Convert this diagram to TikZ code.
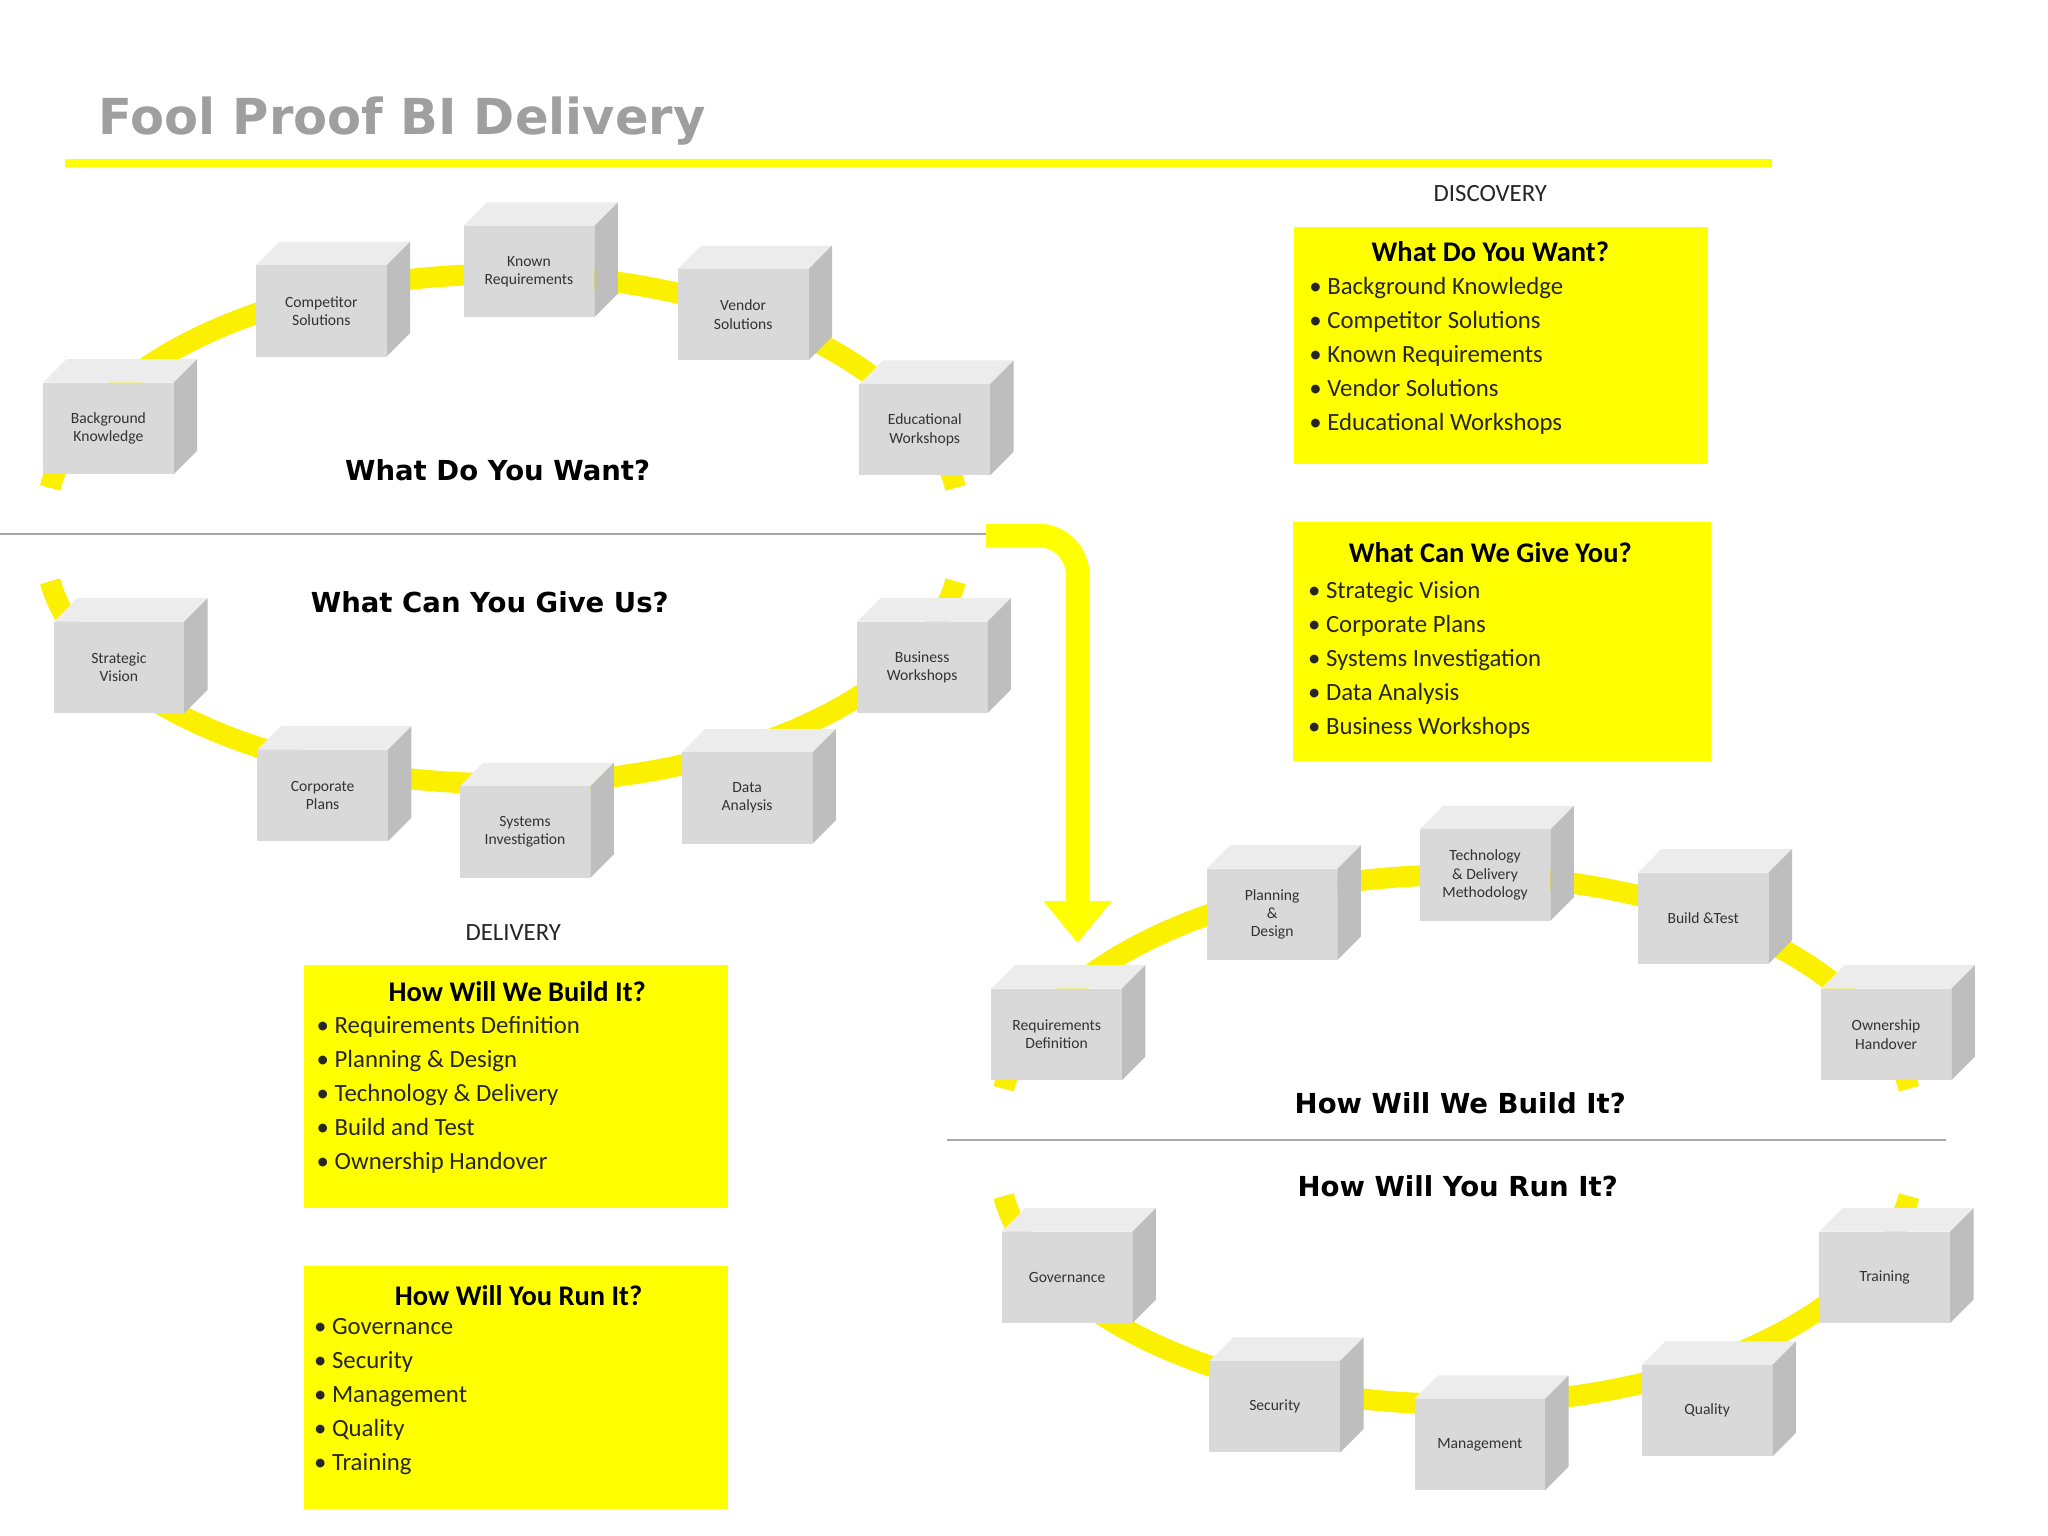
\documentclass[tikz,border=0pt]{standalone}
\usepackage{fontspec}
\setmainfont{Carlito}
\newfontfamily\verd{DejaVu Sans}
\usetikzlibrary{arrows.meta}
\definecolor{yel}{RGB}{255,255,0}
\definecolor{ringyel}{RGB}{250,240,0}
\definecolor{cfront}{RGB}{217,217,217}
\definecolor{ctop}{RGB}{236,236,236}
\definecolor{cside}{RGB}{190,190,190}
\tikzset{
 ring/.style={draw=ringyel,line width=0.8cm},
 cubetxt/.style={font=\fontsize{17}{20}\selectfont,text=black!80,align=center},
 ellab/.style={font=\verd\bfseries\fontsize{30}{34}\selectfont},
 ybox/.style={fill=yel,draw=none},
 btitle/.style={font=\bfseries\fontsize{31}{36}\selectfont},
 blist/.style={font=\fontsize{27}{37}\selectfont,align=left,anchor=north west,text=black!85},
 head/.style={font=\fontsize{27}{32}\selectfont,text=black!85},
 sep/.style={draw=gray!70,line width=0.08cm}
}
\newcommand\cubebox[4]{%
 \fill[ctop] ({#2-50},{#3-35}) -- ({#2-32},{#3-53}) -- ({#2+68},{#3-53}) -- ({#2+50},{#3-35}) -- cycle;
 \fill[cside] ({#2+50},{#3-35}) -- ({#2+68},{#3-53}) -- ({#2+68},{#3+17}) -- ({#2+50},{#3+35}) -- cycle;
 \fill[cfront] ({#2-50},{#3-35}) rectangle ({#2+50},{#3+35});
 \node[cubetxt] (#1) at (#2,#3) {#4};}
\begin{document}
\begin{tikzpicture}[x=0.05cm,y=-0.05cm]
\useasboundingbox[fill=white] (0,0) rectangle (1568,1176);
% title
\node[anchor=west,font=\verd\bfseries\fontsize{54}{60}\selectfont,text=gray!75] (title) at (73,93) {Fool Proof BI Delivery};
\draw[draw=yel,line width=0.3cm] (50,125) -- (1357,125);
% top-left ring
\draw[ring] (385,400) ++(188:350 and 190) arc[start angle=188,end angle=352,x radius=350,y radius=190];
\draw[ring] (385,420) ++(8:350 and 180) arc[start angle=8,end angle=172,x radius=350,y radius=180];
\draw[sep] (0,409) -- (755,409);
\cubebox{bk}{83}{328}{Background\\Knowledge}
\cubebox{cs}{246}{238}{Competitor\\Solutions}
\cubebox{kr}{405}{208}{Known\\Requirements}
\cubebox{vs}{569}{241}{Vendor\\Solutions}
\cubebox{ew}{708}{329}{Educational\\Workshops}
\cubebox{sv}{91}{511}{Strategic\\Vision}
\cubebox{cp}{247}{609}{Corporate\\Plans}
\cubebox{si}{402}{637}{Systems\\Investigation}
\cubebox{da}{572}{611}{Data\\Analysis}
\cubebox{bw}{706}{511}{Business\\Workshops}
\node[ellab] (l1) at (381,360) {What Do You Want?};
\node[ellab] (l2) at (375,461) {What Can You Give Us?};
% arrow
\coordinate (a0) at (755,410);
\coordinate (a1) at (825,722);
\draw[draw=yel,line width=0.9cm,-{Triangle[length=1.6cm,width=2.5cm]}] (a0) -- (795,410) arc[start angle=-90,end angle=0,radius=30] -- (a1);
% right ring
\draw[ring] (1115,860) ++(188:350 and 190) arc[start angle=188,end angle=352,x radius=350,y radius=190];
\draw[ring] (1115,890) ++(8:350 and 185) arc[start angle=8,end angle=172,x radius=350,y radius=185];
\draw[sep] (725,873) -- (1490,873);
\cubebox{rd}{809}{792}{Requirements\\Definition}
\cubebox{pd}{974}{700}{Planning\\\&\\Design}
\cubebox{td}{1137}{670}{Technology\\\& Delivery\\Methodology}
\cubebox{bt}{1304}{703}{Build \&Test}
\cubebox{oh}{1444}{792}{Ownership\\Handover}
\cubebox{gv}{817}{978}{Governance}
\cubebox{se}{976}{1077}{Security}
\cubebox{mg}{1133}{1106}{Management}
\cubebox{qu}{1307}{1080}{Quality}
\cubebox{tr}{1443}{978}{Training}
\node[ellab] (l3) at (1118,845) {How Will We Build It?};
\node[ellab] (l4) at (1116,908) {How Will You Run It?};
% boxes
\node[head] (disc) at (1141,148) {DISCOVERY};
\fill[ybox] (991,174) rectangle (1308,355);
\node[btitle] (t1) at (1141,193) {What Do You Want?};
\node[blist] (b1) at (1000,210) {• Background Knowledge\\• Competitor Solutions\\• Known Requirements\\• Vendor Solutions\\• Educational Workshops};
\fill[ybox] (990,400) rectangle (1310,583);
\node[btitle] (t2) at (1141,423) {What Can We Give You?};
\node[blist] (b2) at (999,443) {• Strategic Vision\\• Corporate Plans\\• Systems Investigation\\• Data Analysis\\• Business Workshops};
\node[head] (deli) at (393,714) {DELIVERY};
\fill[ybox] (233,739) rectangle (557,925);
\node[btitle] (t3) at (396,759) {How Will We Build It?};
\node[blist] (b3) at (240,776) {• Requirements Definition\\•  Planning \& Design\\• Technology \& Delivery\\• Build and Test\\• Ownership Handover};
\fill[ybox] (233,969) rectangle (557,1155);
\node[btitle] (t4) at (397,992) {How Will You Run It?};
\node[blist] (b4) at (238,1007) {• Governance\\• Security\\• Management\\• Quality\\• Training};
\end{tikzpicture}
\end{document}
